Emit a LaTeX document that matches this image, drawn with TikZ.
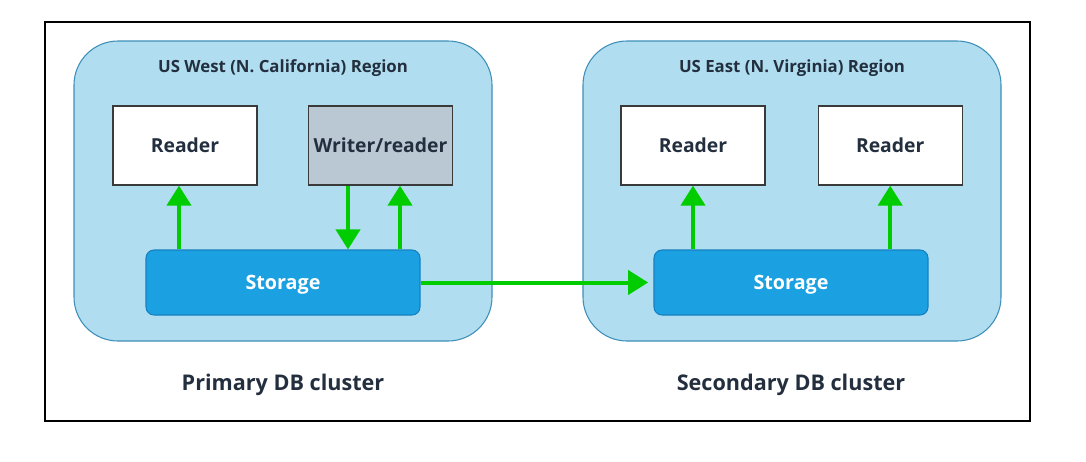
\documentclass[tikz,border=0pt]{standalone}
\usepackage{fontspec}
\setmainfont{Open Sans}
\usetikzlibrary{arrows.meta,positioning}
\definecolor{Ink}{HTML}{232F3E}
\definecolor{RegionFill}{HTML}{B0DEF0}
\definecolor{RegionLine}{HTML}{3E8FB8}
\definecolor{StoreFill}{HTML}{1BA0E1}
\definecolor{StoreLine}{HTML}{1580C0}
\definecolor{WriterFill}{HTML}{BAC8D3}
\definecolor{BoxLine}{HTML}{3A3A3A}
\definecolor{Flow}{HTML}{00CC00}

\begin{document}
\begin{tikzpicture}[x=0.75pt,y=-0.75pt,
  region/.style={draw=RegionLine,fill=RegionFill,rounded corners=33pt,minimum width=313.5pt,minimum height=225pt,line width=0.8pt},
  regiontitle/.style={font=\bfseries\fontsize{12.6}{15}\selectfont,text=Ink},
  dbbox/.style={draw=BoxLine,fill=white,minimum width=108pt,minimum height=59.25pt,line width=0.9pt,font=\bfseries\fontsize{14.5}{17}\selectfont,text=Ink,inner sep=0pt},
  store/.style={draw=StoreLine,fill=StoreFill,rounded corners=6pt,minimum width=205.5pt,minimum height=48.75pt,line width=0.8pt,font=\bfseries\fontsize{14.8}{17}\selectfont,text=white,text depth=0pt},
  cluster/.style={font=\bfseries\fontsize{16.2}{19}\selectfont,text=Ink},
  flow/.style={-{Triangle[length=15pt,width=18pt]},line width=3pt,draw=Flow}
]
  \useasboundingbox (0,0) rectangle (1086,461);
  \draw[line width=0.9pt,black] (45,22) rectangle (1030,421);

  % primary cluster
  \node[region] (west) at (283,191) {};
  \node[regiontitle] (westname) at (283,68) {US West (N. California) Region};
  \node[dbbox] (rd1) at (185,145.5) {Reader};
  \node[dbbox,fill=WriterFill] (wr) at (380.5,145.5) {Writer/reader};
  \node[store] (store1) at (283,282.5) {Storage};
  \node[cluster] (primary) at (283,385) {Primary DB cluster};

  % secondary cluster
  \node[region] (east) at (792,191) {};
  \node[regiontitle] (eastname) at (792,68) {US East (N. Virginia) Region};
  \node[dbbox] (rd2) at (693,145.5) {Reader};
  \node[dbbox,right=39pt of rd2] (rd3) {Reader};
  \node[store] (store2) at (791,282.5) {Storage};
  \node[cluster] (secondary) at (791,385) {Secondary DB cluster};

  % replication and reads
  \draw[flow] (store1.north -| 179,0) -- (rd1.south -| 179,0);
  \draw[flow] (wr.south -| 348,0) -- (store1.north -| 348,0);
  \draw[flow] (store1.north -| 400,0) -- (wr.south -| 400,0);
  \draw[flow,shorten >=4pt] (store1.east) -- (store2.west);
  \draw[flow] (store2.north -| rd2) -- (rd2.south);
  \draw[flow] (store2.north -| rd3) -- (rd3.south);
\end{tikzpicture}
\end{document}
